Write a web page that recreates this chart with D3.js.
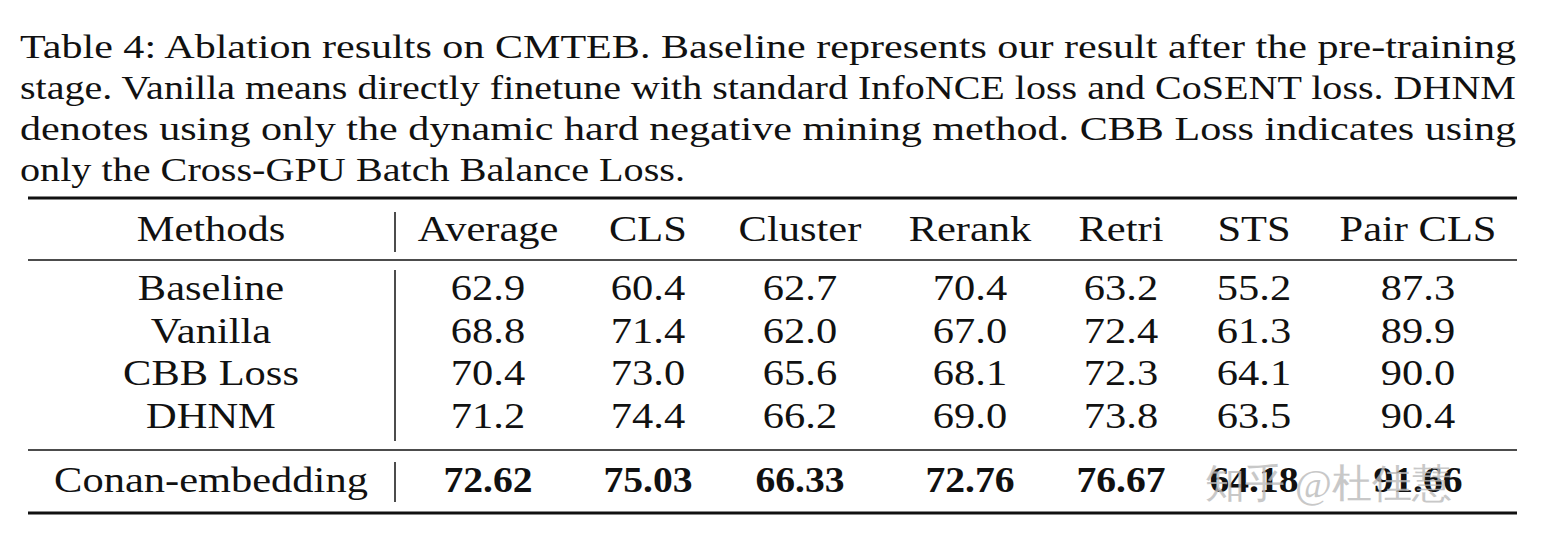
<!DOCTYPE html>
<html><head><meta charset="utf-8">
<script src="https://cdn.jsdelivr.net/npm/d3@7"></script>
<style>body{margin:0;background:#fff}text{font-family:"Liberation Serif","DejaVu Serif",serif;fill:#111}</style>
</head><body><svg id="c" width="1564" height="546"></svg>
<script>
const caption = [
 "Table 4: Ablation results on CMTEB. Baseline represents our result after the pre-training",
 "stage. Vanilla means directly finetune with standard InfoNCE loss and CoSENT loss. DHNM",
 "denotes using only the dynamic hard negative mining method. CBB Loss indicates using",
 "only the Cross-GPU Batch Balance Loss."
];
const columns = ["Methods","Average","CLS","Cluster","Rerank","Retri","STS","Pair CLS"];
const methods = ["Baseline","Vanilla","CBB Loss","DHNM"];
const values = [
 ["62.9","60.4","62.7","70.4","63.2","55.2","87.3"],
 ["68.8","71.4","62.0","67.0","72.4","61.3","89.9"],
 ["70.4","73.0","65.6","68.1","72.3","64.1","90.0"],
 ["71.2","74.4","66.2","69.0","73.8","63.5","90.4"]
];
const oursName = "Conan-embedding";
const ours = ["72.62","75.03","66.33","72.76","76.67","64.18","91.66"];

const svg = d3.select("#c");
const capLen = [1496,1496,1496,665];
svg.selectAll(".cap").data(caption).join("text")
  .attr("x",20).attr("y",(d,i)=>58+i*41).attr("font-size",34)
  .attr("textLength",(d,i)=>capLen[i]).attr("lengthAdjust","spacingAndGlyphs")
  .text(d=>d);

const x = d3.scaleOrdinal().domain(columns).range([211,488,648,800,970,1121,1254,1418]);
const y = d3.scalePoint().domain(methods).range([300,428]);
const fs = 36;
function widen(sel,k){ sel.each(function(){ const w=this.getComputedTextLength(); d3.select(this).attr("textLength",w*k).attr("lengthAdjust","spacingAndGlyphs"); }); }
function cell(tx,cx,cy,bold){
  const t=svg.append("text").attr("x",cx).attr("y",cy).attr("text-anchor","middle").attr("font-size",fs).text(tx);
  if(bold) t.attr("font-weight","bold");
  widen(t,bold?1.1:1.18);
}
function line(y0,w){ svg.append("line").attr("x1",28).attr("x2",1517).attr("y1",y0).attr("y2",y0).attr("stroke","#111").attr("stroke-width",w); }
line(198,3); line(260,1.5); line(450,1.5); line(513,3);
[[212,252],[270,441],[462,502]].forEach(([a,b])=>svg.append("line").attr("x1",395).attr("x2",395).attr("y1",a).attr("y2",b).attr("stroke","#111").attr("stroke-width",1.5));

columns.forEach(c=>cell(c,x(c),241));
methods.forEach((m,i)=>{
  cell(m,x("Methods"),y(m));
  values[i].forEach((v,j)=>cell(v,x(columns[j+1]),y(m)));
});
cell(oursName,x("Methods"),492);
ours.forEach((v,j)=>cell(v,x(columns[j+1]),492,true));
svg.append("text").attr("x",1205).attr("y",497).attr("font-size",40)
  .attr("font-family","Noto Sans CJK SC").style("fill","#bbb").attr("opacity",0.8).text("知乎 @杜佳慧");
</script></body></html>
